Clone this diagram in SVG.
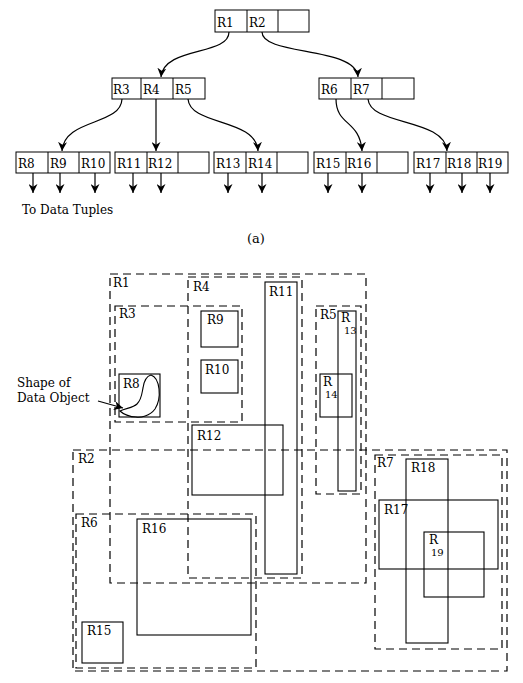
<svg xmlns="http://www.w3.org/2000/svg" width="523" height="683" viewBox="0 0 523 683">
<defs>
<marker id="ah" viewBox="0 0 10 10" refX="10" refY="5" markerWidth="9" markerHeight="9" markerUnits="userSpaceOnUse" orient="auto">
<path d="M0,0 L10,5 L0,10 L3,5 Z" fill="#000"/>
</marker>
<style>
text{font-family:"DejaVu Serif","Liberation Serif",serif;font-size:12px;fill:#000}
.cell{fill:#fff;stroke:#000;stroke-width:1}
.c{fill:none;stroke:#000;stroke-width:1.2}
.d{fill:none;stroke:#000;stroke-width:1.2;stroke-dasharray:8,5}
.s{fill:none;stroke:#000;stroke-width:1.1}
.sm{font-size:10px}
</style>
</defs>
<rect width="523" height="683" fill="#fff"/>

<!-- Tree (a) -->
<g id="root">
<rect class="cell" x="215" y="10" width="94" height="22"/>
<line class="cell" x1="247" y1="10" x2="247" y2="32"/><line class="cell" x1="278" y1="10" x2="278" y2="32"/>
<text x="217" y="27">R1</text><text x="249" y="27">R2</text>
</g>
<g id="n34">
<rect class="cell" x="112" y="78" width="93" height="21"/>
<line class="cell" x1="141" y1="78" x2="141" y2="99"/><line class="cell" x1="173" y1="78" x2="173" y2="99"/>
<text x="113" y="94">R3</text><text x="143" y="94">R4</text><text x="175" y="94">R5</text>
</g>
<g id="n67">
<rect class="cell" x="319" y="78" width="95" height="21"/>
<line class="cell" x1="351" y1="78" x2="351" y2="99"/><line class="cell" x1="382" y1="78" x2="382" y2="99"/>
<text x="321" y="94">R6</text><text x="353" y="94">R7</text>
</g>
<g id="leaf1">
<rect class="cell" x="16" y="152" width="94" height="21"/>
<line class="cell" x1="48" y1="152" x2="48" y2="173"/><line class="cell" x1="79" y1="152" x2="79" y2="173"/>
<text x="18" y="168">R8</text><text x="50" y="168">R9</text><text x="81" y="168">R10</text>
</g>
<g id="leaf2">
<rect class="cell" x="115" y="152" width="94" height="21"/>
<line class="cell" x1="147" y1="152" x2="147" y2="173"/><line class="cell" x1="178" y1="152" x2="178" y2="173"/>
<text x="117" y="168">R11</text><text x="148" y="168">R12</text>
</g>
<g id="leaf3">
<rect class="cell" x="214" y="152" width="94" height="21"/>
<line class="cell" x1="246" y1="152" x2="246" y2="173"/><line class="cell" x1="277" y1="152" x2="277" y2="173"/>
<text x="216" y="168">R13</text><text x="248" y="168">R14</text>
</g>
<g id="leaf4">
<rect class="cell" x="314" y="152" width="94" height="21"/>
<line class="cell" x1="346" y1="152" x2="346" y2="173"/><line class="cell" x1="377" y1="152" x2="377" y2="173"/>
<text x="316" y="168">R15</text><text x="347" y="168">R16</text>
</g>
<g id="leaf5">
<rect class="cell" x="414" y="152" width="94" height="21"/>
<line class="cell" x1="446" y1="152" x2="446" y2="173"/><line class="cell" x1="477" y1="152" x2="477" y2="173"/>
<text x="416" y="168">R17</text><text x="447" y="168">R18</text><text x="478" y="168">R19</text>
</g>
<g id="tree-connectors">
<path class="c" marker-end="url(#ah)" d="M229,32 C229,56 164,46 161,77"/>
<path class="c" marker-end="url(#ah)" d="M262,32 C262,56 356,46 358,77"/>
<path class="c" marker-end="url(#ah)" d="M122,99 C121,126 64,118 62,151"/>
<path class="c" marker-end="url(#ah)" d="M156,99 L156,151"/>
<path class="c" marker-end="url(#ah)" d="M188,99 C190,126 256,118 258,151"/>
<path class="c" marker-end="url(#ah)" d="M336,99 C336,126 360,120 362,151"/>
<path class="c" marker-end="url(#ah)" d="M368,99 C370,126 445,118 447,151"/>
<g marker-end="url(#ah)">
<line class="c" x1="33" y1="173" x2="33" y2="193"/>
<line class="c" x1="60" y1="173" x2="60" y2="193"/>
<line class="c" x1="95" y1="173" x2="95" y2="193"/>
<line class="c" x1="133" y1="173" x2="133" y2="193"/>
<line class="c" x1="161" y1="173" x2="161" y2="193"/>
<line class="c" x1="228" y1="173" x2="228" y2="193"/>
<line class="c" x1="262" y1="173" x2="262" y2="193"/>
<line class="c" x1="328" y1="173" x2="328" y2="193"/>
<line class="c" x1="362" y1="173" x2="362" y2="193"/>
<line class="c" x1="430" y1="173" x2="430" y2="193"/>
<line class="c" x1="462" y1="173" x2="462" y2="193"/>
<line class="c" x1="490" y1="173" x2="490" y2="193"/>
</g>
</g>
<text x="22" y="214">To Data Tuples</text>
<text x="247" y="243" style="font-size:13px">(a)</text>

<!-- Spatial layout -->
<g id="R1"><rect class="d" x="110" y="274" width="256" height="309"/><text x="113" y="287">R1</text></g>
<g id="R4"><rect class="d" x="188" y="277" width="114" height="301"/><text x="193" y="291">R4</text></g>
<g id="R3"><rect class="d" x="115" y="306" width="127" height="116"/><text x="119" y="318">R3</text></g>
<g id="R9"><rect class="s" x="201" y="311" width="37" height="36"/><text x="207" y="324">R9</text></g>
<g id="R10"><rect class="s" x="201" y="360" width="37" height="33"/><text x="205" y="374">R10</text></g>
<g id="R8"><rect class="s" x="119" y="374" width="41" height="43"/><text x="123" y="388">R8</text>
<path class="s" d="M151,375 C160,378 162,398 155,409 C150,416 140,418 136,417 C130,417 123,414 120,411 C126,408 133,408 137,404 C142,399 142,392 143,388 C144,381 147,376 151,375 Z"/></g>
<g id="R11"><rect class="s" x="265" y="282" width="32" height="292"/><text x="269" y="296">R11</text></g>
<g id="R12"><rect class="s" x="192" y="425" width="91" height="70"/><text x="197" y="440">R12</text></g>
<g id="R5"><rect class="d" x="316" y="306" width="45" height="188"/><text x="320" y="319">R5</text></g>
<g id="R13"><rect class="s" x="338" y="311" width="18" height="180"/><text x="341" y="322">R</text><text class="sm" x="344" y="334">13</text></g>
<g id="R14"><rect class="s" x="320" y="374" width="32" height="43"/><text x="323" y="386">R</text><text class="sm" x="325" y="398">14</text></g>
<g id="R2"><rect class="d" x="73" y="450" width="434" height="221"/><text x="78" y="463">R2</text></g>
<g id="R6"><rect class="d" x="76" y="514" width="180" height="154"/><text x="81" y="527">R6</text></g>
<g id="R16"><rect class="s" x="137" y="519" width="114" height="116"/><text x="142" y="533">R16</text></g>
<g id="R15"><rect class="s" x="82" y="622" width="41" height="41"/><text x="87" y="635">R15</text></g>
<g id="R7"><rect class="d" x="375" y="455" width="127" height="194"/><text x="377" y="467">R7</text></g>
<g id="R18"><rect class="s" x="406" y="459" width="42" height="184"/><text x="411" y="472">R18</text></g>
<g id="R17"><rect class="s" x="379" y="500" width="119" height="69"/><text x="384" y="514">R17</text></g>
<g id="R19"><rect class="s" x="424" y="532" width="60" height="65"/><text x="429" y="544">R</text><text class="sm" x="431" y="556">19</text></g>
<g id="label">
<text x="17" y="387">Shape of</text><text x="17" y="402">Data Object</text>
<line class="c" marker-end="url(#ah)" x1="98" y1="401" x2="123" y2="408"/>
</g>
</svg>
